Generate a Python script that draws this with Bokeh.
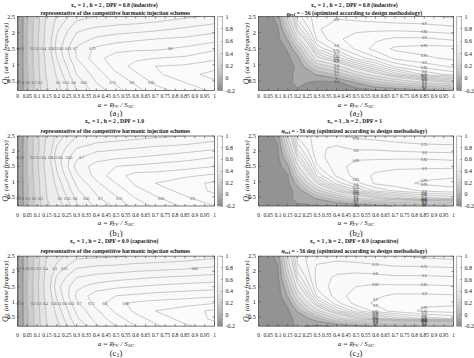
import math
import numpy as np
from bokeh.plotting import figure
from bokeh.models import (Range1d, FixedTicker, ColorBar, LinearColorMapper, Label,
                          LabelSet, ColumnDataSource)
from bokeh.layouts import gridplot
from bokeh.embed import file_html
from bokeh.resources import INLINE

# ---------------- data ----------------
A_VALUES = [0, 0.05, 0.1, 0.15, 0.2, 0.3, 0.4, 0.5, 0.6, 0.7, 0.85, 1.0]
Q_VALUES = [0.2, 0.45, 0.7, 0.95, 1.2, 1.5, 1.8, 2.1, 2.5]

Z_A1 = [
    [-0.12, 0.09, 0.25, 0.39, 0.47, 0.60, 0.67, 0.73, 0.78, 0.83, 0.87, 0.91],
    [-0.12, 0.09, 0.26, 0.40, 0.49, 0.62, 0.70, 0.76, 0.81, 0.86, 0.90, 0.94],
    [-0.12, 0.09, 0.26, 0.42, 0.51, 0.65, 0.72, 0.79, 0.84, 0.89, 0.93, 0.97],
    [-0.12, 0.10, 0.27, 0.43, 0.53, 0.67, 0.75, 0.82, 0.87, 0.90, 0.91, 0.93],
    [-0.12, 0.10, 0.27, 0.44, 0.55, 0.70, 0.78, 0.83, 0.84, 0.85, 0.86, 0.89],
    [-0.12, 0.10, 0.28, 0.46, 0.57, 0.71, 0.76, 0.78, 0.79, 0.79, 0.81, 0.84],
    [-0.12, 0.10, 0.28, 0.45, 0.56, 0.67, 0.71, 0.73, 0.74, 0.75, 0.76, 0.78],
    [-0.12, 0.10, 0.27, 0.44, 0.54, 0.64, 0.66, 0.67, 0.68, 0.69, 0.71, 0.73],
    [-0.12, 0.09, 0.26, 0.42, 0.51, 0.58, 0.60, 0.61, 0.61, 0.62, 0.64, 0.66],
]
Z_B1 = [
    [-0.12, 0.08, 0.25, 0.38, 0.46, 0.59, 0.66, 0.71, 0.77, 0.81, 0.86, 0.90],
    [-0.12, 0.09, 0.25, 0.40, 0.48, 0.61, 0.69, 0.74, 0.80, 0.84, 0.89, 0.93],
    [-0.12, 0.09, 0.26, 0.41, 0.50, 0.64, 0.71, 0.77, 0.83, 0.87, 0.92, 0.96],
    [-0.12, 0.09, 0.26, 0.42, 0.52, 0.66, 0.74, 0.80, 0.86, 0.90, 0.93, 0.96],
    [-0.12, 0.10, 0.27, 0.43, 0.54, 0.69, 0.77, 0.83, 0.87, 0.87, 0.89, 0.91],
    [-0.12, 0.10, 0.28, 0.45, 0.56, 0.72, 0.77, 0.80, 0.81, 0.82, 0.83, 0.85],
    [-0.12, 0.10, 0.28, 0.46, 0.58, 0.69, 0.73, 0.74, 0.75, 0.76, 0.78, 0.80],
    [-0.12, 0.10, 0.27, 0.44, 0.56, 0.65, 0.68, 0.69, 0.70, 0.71, 0.72, 0.74],
    [-0.12, 0.09, 0.27, 0.42, 0.52, 0.60, 0.61, 0.62, 0.63, 0.64, 0.65, 0.67],
]
Z_C1 = [
    [-0.12, 0.09, 0.25, 0.40, 0.48, 0.61, 0.69, 0.75, 0.80, 0.84, 0.89, 0.93],
    [-0.12, 0.09, 0.26, 0.41, 0.50, 0.64, 0.72, 0.78, 0.83, 0.87, 0.92, 0.96],
    [-0.12, 0.09, 0.26, 0.42, 0.52, 0.66, 0.74, 0.81, 0.86, 0.90, 0.93, 0.96],
    [-0.12, 0.10, 0.27, 0.43, 0.54, 0.69, 0.77, 0.84, 0.86, 0.87, 0.88, 0.90],
    [-0.12, 0.10, 0.27, 0.45, 0.56, 0.71, 0.78, 0.80, 0.81, 0.82, 0.83, 0.84],
    [-0.12, 0.10, 0.28, 0.46, 0.58, 0.69, 0.72, 0.74, 0.75, 0.76, 0.77, 0.78],
    [-0.12, 0.10, 0.27, 0.45, 0.56, 0.65, 0.67, 0.68, 0.69, 0.70, 0.71, 0.72],
    [-0.12, 0.09, 0.27, 0.43, 0.52, 0.60, 0.615, 0.62, 0.63, 0.635, 0.645, 0.66],
    [-0.12, 0.09, 0.26, 0.41, 0.48, 0.535, 0.54, 0.545, 0.555, 0.56, 0.57, 0.585],
]
Z_A2 = [
    [-0.15, -0.15, -0.15, -0.12, -0.11, -0.12, -0.15, -0.15, -0.12, -0.09, -0.04, 0.01],
    [-0.15, -0.15, -0.15, -0.12, -0.08, -0.12, -0.13, 0.01, 0.16, 0.26, 0.41, 0.51],
    [-0.15, -0.15, -0.15, -0.12, -0.08, 0.01, 0.11, 0.31, 0.46, 0.61, 0.76, 0.82],
    [-0.15, -0.15, -0.15, -0.12, -0.09, 0.21, 0.36, 0.56, 0.68, 0.81, 0.87, 0.91],
    [-0.15, -0.15, -0.15, -0.12, -0.04, 0.46, 0.61, 0.76, 0.84, 0.91, 0.94, 0.96],
    [-0.15, -0.15, -0.14, -0.09, 0.11, 0.66, 0.78, 0.86, 0.92, 0.96, 0.97, 0.97],
    [-0.15, -0.15, -0.12, 0.01, 0.36, 0.76, 0.84, 0.87, 0.89, 0.91, 0.91, 0.89],
    [-0.15, -0.15, -0.11, 0.15, 0.56, 0.79, 0.84, 0.84, 0.84, 0.84, 0.83, 0.82],
    [-0.15, -0.15, -0.05, 0.35, 0.68, 0.78, 0.79, 0.78, 0.77, 0.76, 0.76, 0.74],
]
Z_B2 = [
    [-0.15, -0.15, -0.15, -0.12, -0.11, -0.11, -0.12, -0.11, -0.06, 0.01, 0.06, 0.11],
    [-0.15, -0.15, -0.15, -0.12, -0.08, 0.01, 0.16, 0.36, 0.51, 0.61, 0.71, 0.76],
    [-0.15, -0.15, -0.15, -0.12, -0.08, 0.26, 0.51, 0.68, 0.81, 0.86, 0.91, 0.93],
    [-0.15, -0.15, -0.15, -0.12, 0.05, 0.51, 0.72, 0.83, 0.91, 0.93, 0.96, 0.97],
    [-0.15, -0.15, -0.15, -0.11, 0.21, 0.66, 0.81, 0.87, 0.91, 0.92, 0.93, 0.94],
    [-0.15, -0.15, -0.14, -0.02, 0.38, 0.74, 0.83, 0.87, 0.88, 0.89, 0.89, 0.89],
    [-0.15, -0.15, -0.12, 0.11, 0.52, 0.78, 0.83, 0.84, 0.84, 0.84, 0.84, 0.83],
    [-0.15, -0.15, -0.11, 0.25, 0.62, 0.79, 0.81, 0.79, 0.79, 0.78, 0.77, 0.77],
    [-0.15, -0.15, -0.06, 0.41, 0.71, 0.77, 0.76, 0.74, 0.73, 0.72, 0.71, 0.70],
]
Z_C2 = [
    [-0.15, -0.15, -0.15, -0.12, -0.09, -0.12, -0.09, -0.04, 0.01, 0.06, 0.11, 0.16],
    [-0.15, -0.15, -0.15, -0.12, -0.08, 0.06, 0.31, 0.51, 0.62, 0.72, 0.81, 0.86],
    [-0.15, -0.15, -0.15, -0.12, 0.01, 0.36, 0.62, 0.78, 0.87, 0.92, 0.96, 0.97],
    [-0.15, -0.15, -0.15, -0.08, 0.16, 0.58, 0.78, 0.87, 0.91, 0.93, 0.94, 0.94],
    [-0.15, -0.15, -0.15, 0.01, 0.31, 0.71, 0.83, 0.87, 0.89, 0.91, 0.91, 0.905],
    [-0.15, -0.15, -0.14, 0.09, 0.46, 0.76, 0.83, 0.85, 0.86, 0.86, 0.86, 0.855],
    [-0.15, -0.15, -0.12, 0.21, 0.56, 0.77, 0.81, 0.82, 0.82, 0.81, 0.81, 0.805],
    [-0.15, -0.15, -0.11, 0.31, 0.63, 0.76, 0.78, 0.78, 0.77, 0.76, 0.76, 0.755],
    [-0.15, -0.15, -0.06, 0.42, 0.68, 0.73, 0.73, 0.72, 0.71, 0.705, 0.69, 0.68],
]

LEVELS = [-0.2, -0.1, 0, 0.1, 0.2, 0.3, 0.4, 0.5, 0.55, 0.6, 0.65, 0.7,
          0.75, 0.8, 0.85, 0.9, 0.95, 1.0]

A_MIN, A_MAX = 0.0, 1.0
Q_MIN, Q_MAX = 0.2, 2.5
X_TICKS = [0, 0.05, 0.1, 0.15, 0.2, 0.25, 0.3, 0.35, 0.4, 0.45, 0.5, 0.55,
           0.6, 0.65, 0.7, 0.75, 0.8, 0.85, 0.9, 0.95, 1]
X_TICK_LABELS = ["0", "0.05", "0.1", "0.15", "0.2", "0.25", "0.3", "0.35", "0.4",
                 "0.45", "0.5", "0.55", "0.6", "0.65", "0.7", "0.75", "0.8",
                 "0.85", "0.9", "0.95", "1"]
Y_TICKS = [0.5, 1, 1.5, 2, 2.5]
Y_TICK_LABELS = ["0.5", "1", "1.5", "2", "2.5"]
CB_TICKS = [-0.2, 0, 0.2, 0.4, 0.6, 0.8, 1]
CB_TICK_LABELS = ["-0.2", "0", "0.2", "0.4", "0.6", "0.8", "1"]

TITLE1_A = "= 1 , h = 2 , DPF = 0.8 (inductive)"
TITLE1_B_LEFT = "= 1 , h = 2 , DPF = 1.0"
TITLE1_B_RIGHT = "= 1 , h = 2 , DPF = 1"
TITLE1_C = "= 1 , h = 2 , DPF = 0.9 (capacitive)"
TITLE2_LEFT = "representative of the competitive harmonic injection schemes"
TITLE2_A_RIGHT = "= - 56 (optimized according to design methodology)"
TITLE2_BC_RIGHT = "= - 56 deg (optimized according to design methodology)"

# rows / columns of the grid along which the inline contour labels sit
LABEL_ROWS = {"a1": [5, 1], "b1": [6, 1], "c1": [7, 3], "a2": [], "b2": [], "c2": []}
LABEL_COLS = {"a1": [], "b1": [], "c1": [], "a2": [6, 10], "b2": [7, 10], "c2": [8, 10]}

# ---------------- layout / styling ----------------
FONT = "Liberation Serif"
W = 237
COLS = [dict(FL=17.0, FW=197.0, YL=4.5), dict(FL=21.0, FW=195.0, YL=9.0)]
ROWS = [dict(H=117, FT=16.0, FH=74.0, t1=4.7, t2=12.7, tk=95.8, xl=104.0, cap=112.7),
        dict(H=120, FT=18.5, FH=70.0, t1=3.2, t2=13.0, tk=97.0, xl=105.3, cap=115.3),
        dict(H=121, FT=18.7, FH=70.0, t1=3.2, t2=13.0, tk=97.0, xl=106.3, cap=115.3)]


def gray(v):
    t = min(max((1.0 - v) / 1.2, 0.0), 1.0)
    g = int(round(251 - 116 * t ** 2.6))
    return "#%02x%02x%02x" % (g, g, g)


PALETTE = [gray(-0.2 + 1.2 * i / 255) for i in range(256)]
FILLS = [gray((LEVELS[i] + LEVELS[i + 1]) / 2) for i in range(len(LEVELS) - 1)]
LINE_COLORS = ["#555555" if lv <= 0.05 else "#959595" for lv in LEVELS]
TEXT_COLOR = "#161616"
AXIS_COLOR = "#3c3c3c"

TW = {' ': 250, '(': 333, ')': 333, ',': 250, '-': 333, '.': 250, '/': 278, '=': 564,
      'A': 722, 'C': 667, 'D': 722, 'F': 556, 'L': 611, 'P': 556, 'Q': 722, 'S': 556,
      'V': 722, 'a': 444, 'b': 500, 'c': 444, 'd': 500, 'e': 444, 'f': 333, 'g': 500,
      'h': 500, 'i': 278, 'j': 278, 'k': 500, 'l': 278, 'm': 778, 'n': 500, 'o': 500,
      'p': 500, 'q': 500, 'r': 333, 's': 389, 't': 278, 'u': 500, 'v': 500, 'w': 722,
      'x': 500, 'y': 500, 'z': 444, 'φ': 540}


def tw(s, size, style):
    w = sum(TW.get(c, 500) for c in s) / 1000.0 * size
    return w * (1.07 if "bold" in style else 1.0)


def rich(p, pieces, x, y, dx=0.0, dy=0.0, angle=0.0):
    """pieces: (text, size, style, baseline shift px); centred on (x, y)+offset."""
    total = sum(tw(t, s, st) for t, s, st, sh in pieces)
    ux, uy = math.cos(angle), math.sin(angle)
    vx, vy = -math.sin(angle), math.cos(angle)
    pos = -total / 2.0
    for t, s, st, sh in pieces:
        lead = len(t) - len(t.lstrip(" "))
        q = pos + tw(t[:lead], s, st)
        p.add_layout(Label(x=x, y=y, x_units="data", y_units="data",
                           x_offset=dx + ux * q + vx * sh, y_offset=dy + uy * q + vy * sh,
                           text=t.strip(), angle=angle, text_font=FONT,
                           text_font_size=f"{s}px", text_font_style=st,
                           text_align="left", text_baseline="middle",
                           text_color=TEXT_COLOR))
        pos += tw(t, s, st)


def level_text(lv):
    return ("%.2f" % lv).rstrip("0").rstrip(".") if lv != 0 else "0"


def contour_labels(z, rows, cols):
    """Positions where the contour levels cross chosen grid rows / columns."""
    xs, ys, ts = [], [], []
    for i in rows:
        r = z[i]
        for j in range(len(A_VALUES) - 1):
            for lv in LEVELS:
                if (r[j] - lv) * (r[j + 1] - lv) < 0:
                    f = (lv - r[j]) / (r[j + 1] - r[j])
                    xs.append(A_VALUES[j] + f * (A_VALUES[j + 1] - A_VALUES[j]))
                    ys.append(Q_VALUES[i])
                    ts.append(level_text(lv))
    for j in cols:
        for i in range(len(Q_VALUES) - 1):
            for lv in LEVELS:
                a0, a1 = z[i][j], z[i + 1][j]
                if (a0 - lv) * (a1 - lv) < 0:
                    f = (lv - a0) / (a1 - a0)
                    xs.append(A_VALUES[j])
                    ys.append(Q_VALUES[i] + f * (Q_VALUES[i + 1] - Q_VALUES[i]))
                    ts.append(level_text(lv))
    return xs, ys, ts


def panel(key, z, row, col, title1, title2, sym, cap_letter, cap_idx):
    R, C = ROWS[row], COLS[col]
    H, FT, FH, FL, FW = R["H"], R["FT"], R["FH"], C["FL"], C["FW"]
    sx = FW / (A_MAX - A_MIN)
    sy = FH / (Q_MAX - Q_MIN)
    fb = H - FT - FH  # pixels below the plot box
    p = figure(width=W, height=H,
               x_range=Range1d(A_MIN - FL / sx, A_MIN + (W - FL) / sx),
               y_range=Range1d(Q_MIN - fb / sy, Q_MAX + FT / sy),
               x_axis_location=None, y_axis_location=None,
               output_backend="svg", toolbar_location=None,
               min_border=0, outline_line_color=None)
    p.grid.visible = False

    p.contour(x=A_VALUES, y=Q_VALUES, z=np.array(z, dtype=float), levels=LEVELS,
              fill_color=FILLS, line_color=LINE_COLORS, line_width=0.5)

    # inline contour labels
    lx, ly, lt = contour_labels(z, LABEL_ROWS[key], LABEL_COLS[key])
    p.add_layout(LabelSet(x="x", y="y", text="t",
                          source=ColumnDataSource(dict(x=lx, y=ly, t=lt)),
                          text_align="center", text_baseline="middle", text_font=FONT,
                          text_font_size="3.6px", text_color="#3a3a3a"))

    # plot box and tick marks
    p.quad(left=[A_MIN], right=[A_MAX], bottom=[Q_MIN], top=[Q_MAX],
           fill_color=None, line_color=AXIS_COLOR, line_width=0.7)
    tl_y, tl_x = 2.0 / sy, 2.0 / sx
    nx, ny = len(X_TICKS), len(Y_TICKS)
    p.segment(x0=X_TICKS, y0=[Q_MIN] * nx, x1=X_TICKS, y1=[Q_MIN + tl_y] * nx,
              line_color=AXIS_COLOR, line_width=0.6)
    p.segment(x0=X_TICKS, y0=[Q_MAX] * nx, x1=X_TICKS, y1=[Q_MAX - tl_y] * nx,
              line_color=AXIS_COLOR, line_width=0.6)
    p.segment(x0=[A_MIN] * ny, y0=Y_TICKS, x1=[A_MIN + tl_x] * ny, y1=Y_TICKS,
              line_color=AXIS_COLOR, line_width=0.6)
    p.segment(x0=[A_MAX] * ny, y0=Y_TICKS, x1=[A_MAX - tl_x] * ny, y1=Y_TICKS,
              line_color=AXIS_COLOR, line_width=0.6)

    # tick labels
    xsrc = ColumnDataSource(dict(x=X_TICKS, y=[Q_MIN] * nx, t=X_TICK_LABELS))
    p.add_layout(LabelSet(x="x", y="y", text="t", source=xsrc,
                          y_offset=(FT + FH) - R["tk"], text_align="center",
                          text_baseline="middle", text_font=FONT,
                          text_font_size="5.4px", text_color=TEXT_COLOR))
    ysrc = ColumnDataSource(dict(x=[A_MIN] * ny, y=Y_TICKS, t=Y_TICK_LABELS))
    p.add_layout(LabelSet(x="x", y="y", text="t", source=ysrc, x_offset=-2.5,
                          text_align="right", text_baseline="middle", text_font=FONT,
                          text_font_size="6.3px", text_color=TEXT_COLOR))

    # colour bar
    cm = LinearColorMapper(palette=PALETTE, low=-0.2, high=1.0)
    cb = ColorBar(color_mapper=cm, ticker=FixedTicker(ticks=CB_TICKS),
                  major_label_overrides=dict(zip(CB_TICKS, CB_TICK_LABELS)),
                  location=(FL + FW + 3, fb), width=5, height=int(round(FH)),
                  padding=0, margin=0, label_standoff=3,
                  major_label_text_font=FONT, major_label_text_font_size="6px",
                  major_label_text_color=TEXT_COLOR,
                  major_tick_in=1, major_tick_out=0, major_tick_line_color="#777777",
                  bar_line_color="#8a8a8a", bar_line_width=0.6,
                  border_line_color=None, background_fill_alpha=0)
    p.add_layout(cb)

    # titles (centres measured from the panel top)
    rich(p, [("x", 5.7, "bold", 0), ("v", 4.3, "bold", -1.5), (" " + title1, 5.7, "bold", 0)],
         0.5, Q_MAX, dy=FT - R["t1"])
    if sym is None:
        rich(p, [(title2, 5.75, "bold", 0)], 0.5, Q_MAX, dy=FT - R["t2"])
    else:
        rich(p, [(sym, 6.2, "bold", 0), ("ref", 4.3, "bold", -1.6),
                 (" " + title2, 5.75, "bold", 0)], 0.5, Q_MAX, dy=FT - R["t2"])
    # x label
    rich(p, [("a = P", 7, "italic", 0), ("PV", 5, "italic", -1.8),
             (" / S", 7, "italic", 0), ("SC", 5, "italic", -1.8)],
         0.5, Q_MIN, dy=(FT + FH) - R["xl"])
    # caption
    rich(p, [("(" + cap_letter, 8.5, "normal", 0), (cap_idx, 6, "normal", -2.2),
             (")", 8.5, "normal", 0)], 0.5, Q_MIN, dy=(FT + FH) - R["cap"])
    # y label
    rich(p, [("Q", 8, "italic", 0), ("L", 5.5, "italic", -1.8),
             (" (at base frequency)", 6.6, "italic", 0)],
         A_MIN, (Q_MIN + Q_MAX) / 2, dx=C["YL"] - FL, angle=math.pi / 2)
    return p


pa1 = panel("a1", Z_A1, 0, 0, TITLE1_A, TITLE2_LEFT, None, "a", "1")
pa2 = panel("a2", Z_A2, 0, 1, TITLE1_A, TITLE2_A_RIGHT, "φ", "a", "2")
pb1 = panel("b1", Z_B1, 1, 0, TITLE1_B_LEFT, TITLE2_LEFT, None, "b", "1")
pb2 = panel("b2", Z_B2, 1, 1, TITLE1_B_RIGHT, TITLE2_BC_RIGHT, "φ", "b", "2")
pc1 = panel("c1", Z_C1, 2, 0, TITLE1_C, TITLE2_LEFT, None, "c", "1")
pc2 = panel("c2", Z_C2, 2, 1, TITLE1_C, TITLE2_BC_RIGHT, "φ", "c", "2")

grid = gridplot([[pa1, pa2], [pb1, pb2], [pc1, pc2]], toolbar_location=None)

open("out.html", "w").write(file_html(grid, INLINE))
